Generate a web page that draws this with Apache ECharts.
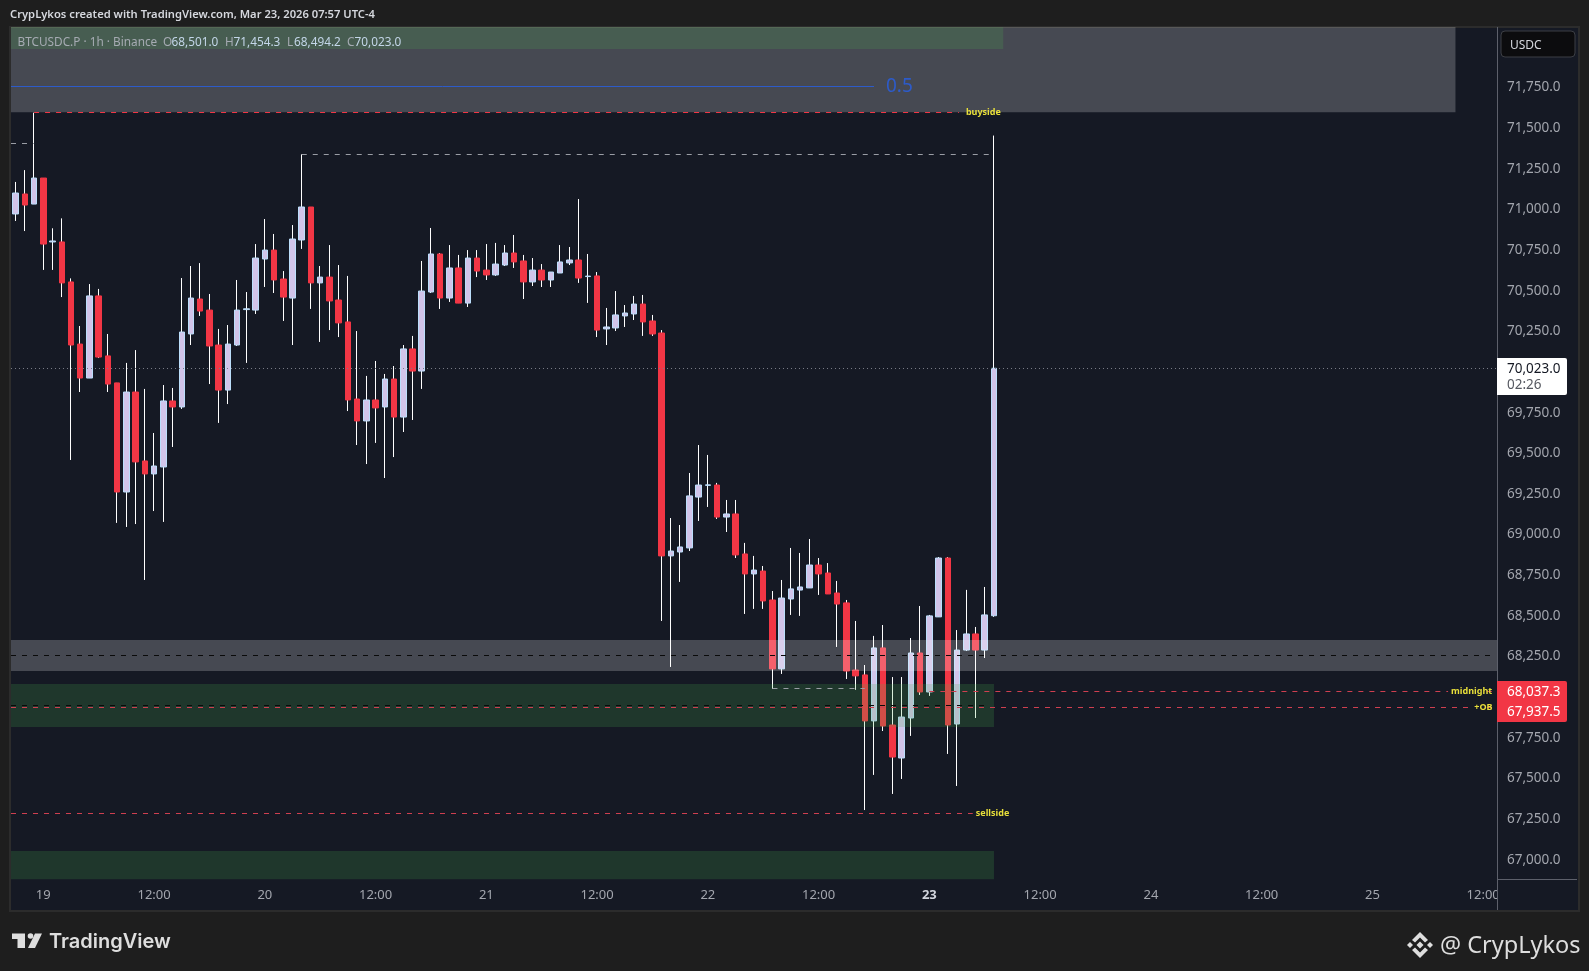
<!DOCTYPE html>
<html><head><meta charset="utf-8">
<style>html,body{margin:0;padding:0;background:#1e1e1e;overflow:hidden}#c{width:1589px;height:971px}</style>
<script src="https://cdn.jsdelivr.net/npm/echarts@6/dist/echarts.min.js"></script>
</head><body><div id="c"></div>
<script>
const opens=[70972,71095,71033,71193,70800,70800,70554,70172,69963,70468,70099,69933,69262,69877,69453,69373,69416,69822,69785,70234,70449,70381,70166,69889,70166,70384,70381,70695,70750,70572,70455,70812,71015,70548,70584,70443,70308,69834,69699,69828,69785,69957,69723,70142,70006,70492,70726,70455,70640,70424,70701,70627,70597,70658,70732,70683,70554,70627,70566,70609,70671,70689,70587,70591,70265,70271,70345,70357,70418,70314,70240,68869,68893,68918,69231,69303,69305,69108,69127,68881,68758,68776,68598,68174,68604,68659,68672,68813,68764,68641,68580,68167,68137,67854,68303,67829,67626,67872,68272,68032,68494,68856,67835,68290,68389,68290,68501.0];
const closes=[71101,71027,71193,70787,70806,70548,70166,69963,70468,70092,69926,69262,69877,69447,69373,69422,69822,69785,70246,70455,70375,70160,69889,70172,70381,70389,70701,70750,70566,70461,70818,71015,70548,70584,70437,70302,69828,69699,69828,69779,69957,69723,70142,70006,70498,70726,70455,70640,70424,70701,70621,70597,70664,70732,70677,70554,70627,70566,70615,70677,70689,70578,70590,70258,70277,70351,70363,70418,70308,70234,68869,68899,68924,69238,69305,69306,69108,69127,68875,68758,68782,68592,68174,68610,68666,68678,68813,68758,68635,68573,68161,68131,67854,68303,67823,67632,67878,68272,68032,68500,68856,67829,68290,68389,68290,68506,70023.0];
const lows=[70929,70867,71033,70628,70628,70461,69459,69877,69963,70086,69877,69072,69047,69065,68721,69145,69078,69539,69773,70166,70345,69926,69687,69803,70160,70056,70357,70523,70486,70314,70166,70757,70388,70185,70258,70215,69760,69551,69434,69564,69348,69477,69631,69705,69896,70486,70388,70431,70424,70400,70584,70566,70591,70652,70640,70449,70529,70523,70523,70609,70658,70548,70425,70215,70166,70252,70277,70320,70222,70222,68469,68186,68709,68899,69084,69170,69096,69016,68856,68512,68543,68543,68051,68143,68506,68500,68672,68629,68635,68309,68112,68045,67306,67522,67792,67405,67497,67762,68014,68008,68494,67651,67454,68284,67872,68241,68494.2];
const highs=[71169,71242,71595,71193,70884,70945,70576,70283,70541,70511,70234,69933,70056,70135,69896,69625,69920,69902,70578,70652,70670,70480,70265,70289,70566,70492,70787,70941,70849,70621,70904,71339,71015,70652,70781,70658,70591,70252,69976,70068,69988,70037,70166,70222,70683,70886,70732,70781,70720,70750,70750,70787,70794,70781,70843,70720,70701,70664,70615,70781,70769,71064,70726,70615,70394,70498,70412,70468,70474,70351,70258,69102,69059,69379,69551,69490,69318,69213,69213,68949,68869,68807,68653,68721,68918,68887,68973,68856,68825,68715,68598,68469,68198,68377,68444,68124,68124,68364,68561,68506,68862,68862,68413,68660,68432,68678,71454.3];
const timeTicks=["19","12:00","20","12:00","21","12:00","22","12:00","23","12:00","24","12:00","25","12:00"];
const priceTicks=[67000,67250,67500,67750,68000,68250,68500,68750,69000,69250,69500,69750,70000,70250,70500,70750,71000,71250,71500,71750];
const levelMidnight=68037.3, levelOB=67937.5, levelClose=70023;
const levelBuyside=71597, levelSellside=67286, levelHalf=71756;
const levelSwingA=71407, levelSwingB=71339, levelSwingC=68055, levelBlackA=68258, levelBlackB=67950;

const N=161, FIRST=3, STEP=12;
const categories=Array.from({length:N},(_,i)=>{const k=(i-FIRST)/STEP;return Number.isInteger(k)&&timeTicks[k]?timeTicks[k]:'';});
const idx=opens.map((_,i)=>i);
const wicks=idx.map(i=>[opens[i],closes[i],lows[i],highs[i]]);
const bodies=idx.map(i=>[opens[i],closes[i],Math.min(opens[i],closes[i]),Math.max(opens[i],closes[i])]);
const L=-0.5,R=160.5,last=opens.length-1;
const fmt=v=>v.toLocaleString('en-US',{minimumFractionDigits:1,maximumFractionDigits:1});
const white=a=>`rgba(255,255,255,${a})`, green='rgba(76,175,80,0.2)';
const zone=(x0,p0,x1,p1,c)=>[{xAxis:x0,yAxis:p0,itemStyle:{color:c}},{xAxis:x1,yAxis:p1}];
const seg=(x0,x1,p,c,dash,w,label)=>{const a={xAxis:x0,yAxis:p,lineStyle:{color:c,type:dash,width:w||1}};
  if(label)a.label=label;return [a,{xAxis:x1,yAxis:p}];};
const yellow=(t,d)=>({show:true,position:'end',formatter:t,color:'#e8df3a',fontSize:9,fontWeight:'bold',fontFamily:'Noto Sans',distance:d});
const RED='#f23645',DIM='#cf3f50',GR='#9a9da5',BK='#0a0a0a',D=[5,6];

const T=(text,x,y,font,fill,extra)=>({type:'text',z:7,silent:true,style:Object.assign({text,x,y,font,fill,verticalAlign:'middle',align:'left'},extra||{})});
const R_=(x,y,w,h,fill,z,extra)=>({type:'rect',z,silent:true,shape:Object.assign({x,y,width:w,height:h},extra&&extra.shape||{}),style:Object.assign({fill},extra&&extra.style||{})});
const P=(pts,fill)=>({type:'polygon',z:7,silent:true,shape:{points:pts},style:{fill}});
const F='"Noto Sans"';
const dia=(x,y,r,f)=>P([[x,y-r],[x+r,y],[x,y+r],[x-r,y]],f);
const cx=1420,cy=945,ic='#dedede',LF='11.8px '+F;
const gfx=[
 R_(10,27,1569,884,'#151924',-1,{style:{stroke:'#2c2c2c',lineWidth:2}}),
 R_(1498,880,79,29,'#151924',2),
 R_(1497,27,1,883,'#5d606b',4),
 R_(1497,879,80,1,'#5d606b',4),
 T('CrypLykos created with TradingView.com, Mar 23, 2026 07:57 UTC-4',10,15,'600 11.2px '+F,'#d6d8de'),
 T('BTCUSDC.P · 1h · Binance',17.5,43,LF,'#a6abb3'),
 T('O',163,43,LF,'#a6abb3'),T(fmt(opens[last]),171.5,43,LF,'#c3d6e8'),
 T('H',225,43,LF,'#a6abb3'),T(fmt(highs[last]),233.5,43,LF,'#c3d6e8'),
 T('L',287,43,LF,'#a6abb3'),T(fmt(lows[last]),294,43,LF,'#c3d6e8'),
 T('C',347,43,LF,'#a6abb3'),T(fmt(closes[last]),354.5,43,LF,'#c3d6e8'),
 R_(1501,31,74,26,'#0c0c0e',6,{shape:{r:4},style:{stroke:'#3c3e44',lineWidth:1}}),
 T('USDC',1510,45.5,'12px '+F,'#d6d8de'),
 R_(1497,358,70,37,'#ffffff',6,{shape:{r:[0,2,2,0]}}),
 T(fmt(levelClose),1507,369,'13.5px '+F,'#131722'),
 T('02:26',1507,385.5,'13.5px '+F,'#555860'),
 R_(1497,681,70,41,'#f23645',6,{shape:{r:[0,2,2,0]}}),
 T(fmt(levelMidnight),1507,692,'13.5px '+F,'#ffffff'),
 T(fmt(levelOB),1507,712,'13.5px '+F,'#ffffff'),
 // TradingView logo
 P([[12,933.5],[25,933.5],[25,948],[17.5,948],[17.5,939],[12,939]],'#dedede'),
 {type:'circle',z:7,silent:true,shape:{cx:30.5,cy:936,r:2.8},style:{fill:'#dedede'}},
 P([[35,933.5],[42,933.5],[35,948],[28,948]],'#dedede'),
 T('TradingView',49,942,'600 20px Inter','#dedede'),
 // signature mark
 dia(cx,cy,3.5,ic),dia(cx-10,cy,3,ic),dia(cx+10,cy,3,ic),
 P([[cx,cy-13],[cx+8,cy-5],[cx+5,cy-2.5],[cx,cy-7.5],[cx-5,cy-2.5],[cx-8,cy-5]],ic),
 P([[cx,cy+13],[cx+8,cy+5],[cx+5,cy+2.5],[cx,cy+7.5],[cx-5,cy+2.5],[cx-8,cy+5]],ic),
 T('@ CrypLykos',1440,946,'23.5px '+F,'#dedede',{shadowColor:'#000',shadowBlur:2,shadowOffsetX:1,shadowOffsetY:1})
];

const chart=echarts.init(document.getElementById('c'),null,{renderer:'canvas'});
chart.setOption({
 animation:false,backgroundColor:'#1e1e1e',
 grid:{left:11,right:92,top:27,bottom:91.7,containLabel:false},
 tooltip:{show:false},
 xAxis:[
  {type:'category',data:categories,boundaryGap:true,z:1,
   axisLine:{show:false},axisTick:{show:false},splitLine:{show:false},
   axisLabel:{interval:0,hideOverlap:false,margin:9,fontSize:13,fontFamily:F,color:'#a3a6ae',
     formatter:v=>v==='23'?'{b|23}':v,rich:{b:{fontSize:13,fontFamily:F,fontWeight:'bold',color:'#d1d4dc'}}}},
  {type:'value',min:L,max:R,show:false,position:'bottom'}
 ],
 yAxis:{type:'value',position:'right',min:66880,max:72122,z:3,scale:true,
   axisLine:{show:false},axisTick:{show:false},splitLine:{show:false},
   axisLabel:{customValues:priceTicks,margin:10,align:'left',fontSize:13.5,fontFamily:F,color:'#a3a6ae',padding:[0,0,3,0],formatter:v=>fmt(v)}},
 graphic:{elements:gfx},
 series:[
  {name:'wick',type:'candlestick',xAxisIndex:0,data:wicks,barWidth:0,barMinWidth:0,silent:true,
   itemStyle:{color:'#ffffff',color0:'#ffffff',borderColor:'#ffffff',borderColor0:'#ffffff',borderWidth:1}},
  {name:'body',type:'candlestick',xAxisIndex:0,data:bodies,barWidth:6,barMinWidth:1,silent:true,
   itemStyle:{color:'#d1c4e9',color0:'#f23645',borderColor:'#bbdefb',borderColor0:'#f23645',borderWidth:1}},
  {name:'levels',type:'line',xAxisIndex:1,data:[],silent:true,
   markArea:{silent:true,z:3,data:[
     zone(L,levelBuyside,156,72122,white(0.21)),
     zone(L,71987,107,72122,green),
     zone(L,68352,R,68161,white(0.21)),
     zone(L,68081,106,67817,green),
     zone(L,67054,106,66880,green)]},
   markLine:{silent:true,z:5,symbol:'none',label:{show:false},data:[
     seg(L,93,levelHalf,'#2d5bc9','solid',1,{show:true,position:'end',formatter:'0.5',color:'#2d5bc9',fontSize:19,fontFamily:F,distance:12}),
     seg(2,102.2,levelBuyside,RED,D,1,yellow('buyside',7)),
     seg(L,103.7,levelSellside,DIM,D,1,yellow('sellside',3)),
     seg(99,155.2,levelMidnight,DIM,D,1,yellow('midnight',3)),
     seg(159.4,R,levelMidnight,DIM,D),
     seg(L,157.6,levelOB,DIM,D,1,yellow('+OB',4)),
     seg(159.4,R,levelOB,DIM,D),
     seg(L,R,levelClose,'#787b86',[1,3]),
     seg(L,2,levelSwingA,GR,D),
     seg(31,106,levelSwingB,GR,D),
     seg(82,92,levelSwingC,GR,D),
     seg(L,160,levelBlackA,BK,D),
     seg(L,105.2,levelBlackB,BK,D)
   ]}}
 ]
});
</script></body></html>
